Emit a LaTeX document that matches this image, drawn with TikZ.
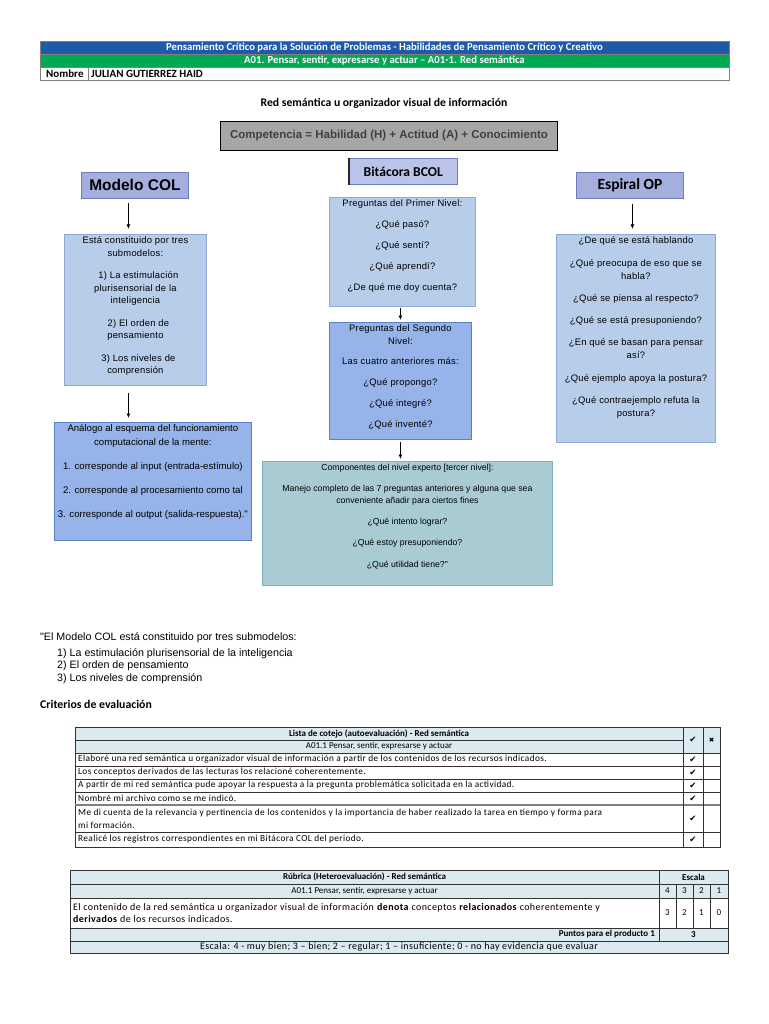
\documentclass[tikz,border=0pt]{standalone}
\usepackage{fontspec}
\setmainfont{Carlito}
\newfontfamily\arial{Liberation Sans}
\newfontfamily\arialls[LetterSpace=2.5]{Liberation Sans}
\newfontfamily\tabls[LetterSpace=4]{Carlito}
\newfontfamily\dejavu{DejaVu Sans}
\usetikzlibrary{arrows.meta}
\definecolor{hdrblue}{RGB}{30,90,168}
\definecolor{hdrgreen}{RGB}{0,170,80}
\definecolor{compgray}{RGB}{166,166,166}
\definecolor{comptext}{RGB}{64,64,64}
\definecolor{lblue}{RGB}{184,205,233}
\definecolor{lblueb}{RGB}{140,172,215}
\definecolor{mblue}{RGB}{150,180,234}
\definecolor{mblueb}{RGB}{90,128,200}
\definecolor{titlebox}{RGB}{165,175,222}
\definecolor{titleboxb}{RGB}{110,125,190}
\definecolor{bitfill}{RGB}{185,196,232}
\definecolor{tealf}{RGB}{168,204,210}
\definecolor{tealb}{RGB}{130,175,185}
\definecolor{tabfill}{RGB}{218,234,240}
\definecolor{tabline}{RGB}{50,50,50}
\newcommand\ck{{\dejavu\fontsize{8.5}{10}\selectfont ✔}}
\newcommand\xk{{\dejavu\fontsize{6.5}{8}\selectfont ✖}}
\tikzset{
 arr/.style={-{Latex[length=4.5pt,width=4pt]}, line width=1pt, black},
 tbox/.style={draw=titleboxb, fill=titlebox, line width=0.8pt, inner sep=0pt, anchor=north west, minimum height=26pt, minimum width=107pt},
 lbox/.style={draw=lblueb, fill=lblue, line width=0.8pt, inner sep=0pt, anchor=north west},
 mbox/.style={draw=mblueb, fill=mblue, line width=0.8pt, inner sep=0pt, anchor=north west},
 ebox/.style={draw=tealb, fill=tealf, line width=0.8pt, inner sep=0pt, anchor=north west},
 bf95/.style={font=\arialls\fontsize{9.4}{12.5}\selectfont},
 tt/.style={inner sep=0pt, font=\fontsize{9}{12.6}\selectfont},
 tr/.style={inner sep=0pt, font=\tabls\fontsize{9.3}{12.6}\selectfont},
 tr2/.style={inner sep=0pt, font=\tabls\fontsize{10}{12.8}\selectfont},
 ttb/.style={inner sep=0pt, font=\bfseries\fontsize{9}{12.6}\selectfont},
 hd/.style={inner sep=0pt, text=white, font=\bfseries\fontsize{10.7}{11}\selectfont},
 tl/.style={draw=tabline, line width=0.6pt},
}
\begin{document}
\begin{tikzpicture}[x=1pt,y=-1pt]
\useasboundingbox[fill=white] (0,0) rectangle (768,1024);

% ---------- header ----------
\fill[hdrblue] (40,41) rectangle (729,54);
\fill[hdrgreen] (40,54) rectangle (729,67);
\draw[gray, line width=0.5pt] (40,41) rectangle (729,80);
\draw[gray, line width=0.5pt] (40,54) -- (729,54) (40,67) -- (729,67) (88,67) -- (88,80);
\node[hd] (h1) at (384.5,47.8) {Pensamiento Crítico para la Solución de Problemas - Habilidades de Pensamiento Crítico y Creativo};
\node[hd] (h2) at (384.5,60.8) {A01. Pensar, sentir, expresarse y actuar – A01-1. Red semántica};
\node[inner sep=0pt, anchor=west, font=\bfseries\fontsize{11}{12}\selectfont] (h3) at (46,73.8) {Nombre};
\node[inner sep=0pt, anchor=west, font=\bfseries\fontsize{11}{12}\selectfont] (h4) at (91,73.8) {JULIAN GUTIERREZ HAID};

% ---------- title ----------
\node[inner sep=0pt, font=\bfseries\fontsize{11.7}{14}\selectfont] (title) at (384,103) {Red semántica u organizador visual de información};

\node[draw=black, line width=1pt, fill=compgray, minimum width=337pt, minimum height=29pt, anchor=north west, inner sep=0pt, text=comptext, font=\arial\bfseries\fontsize{11.5}{14}\selectfont] (comp) at (220,121) {Competencia = Habilidad (H) + Actitud (A) + Conocimiento};

\node[fill=bitfill, draw=titleboxb, line width=0.6pt, minimum width=108pt, minimum height=26pt, anchor=north west, inner sep=0pt, font=\bfseries\fontsize{13.6}{15}\selectfont] (bcol) at (349,158) {Bitácora BCOL};
\draw[line width=1.5pt, black!85] (bcol.north west) -- (bcol.south west);

\node[tbox, font=\arial\bfseries\fontsize{15.5}{18}\selectfont] (modelo) at (81,172) {Modelo COL};
\node[tbox, font=\bfseries\fontsize{15.5}{18}\selectfont] (espiral) at (576,172) {Espiral OP};

% ---------- left column ----------
\node[lbox, bf95] (col1) at (64,234) {\parbox[c][151pt][t]{142pt}{\centering\vspace*{2.5pt}%
Está constituido por tres\\ submodelos:\\[10pt]
\hspace*{6pt}1) La estimulación\\ plurisensorial de la\\ inteligencia\\[10pt]
\hspace*{6pt}2) El orden de\\ pensamiento\\[10pt]
\hspace*{6pt}3) Los niveles de\\ comprensión}};

\node[mbox, font=\arial\fontsize{9.6}{14.5}\selectfont] (ana) at (54,422) {\parbox[c][118pt][t]{197pt}{\centering\vspace*{2pt}%
Análogo al esquema del funcionamiento\\ computacional de la mente:\\[9pt]
1. corresponde al input (entrada-estímulo)\\[9.5pt]
2. corresponde al procesamiento como tal\\[10pt]
3. corresponde al output (salida-respuesta)."}};

% ---------- center column ----------
\node[lbox, bf95] (n1) at (329,197) {\parbox[c][109pt][t]{146pt}{\centering\vspace*{2.5pt}%
Preguntas del Primer Nivel:\\[8.5pt]
¿Qué pasó?\\[8.5pt]
¿Qué sentí?\\[8.5pt]
¿Qué aprendí?\\[8.5pt]
¿De qué me doy cuenta?}};

\node[mbox, bf95] (n2) at (329,322) {\parbox[c][117pt][t]{142pt}{\centering\vspace*{2.5pt}%
Preguntas del Segundo\\ Nivel:\\[7.5pt]
Las cuatro anteriores más:\\[8.5pt]
¿Qué propongo?\\[8.5pt]
¿Qué integré?\\[8.5pt]
¿Qué inventé?}};

\node[ebox, font=\arial\fontsize{8.7}{12}\selectfont] (n3) at (262,461) {\parbox[c][124pt][t]{290pt}{\centering\vspace*{2.5pt}%
Componentes del nivel experto [tercer nivel]:\\[9pt]
Manejo completo de las 7 preguntas anteriores y alguna que sea\\ conveniente añadir para ciertos fines\\[9pt]
¿Qué intento lograr?\\[9.5pt]
¿Qué estoy presuponiendo?\\[9.5pt]
¿Qué utilidad tiene?"}};

% ---------- right column ----------
\node[lbox, font=\arialls\fontsize{9.4}{13}\selectfont] (op) at (556,234) {\parbox[c][208pt][t]{159pt}{\centering\vspace*{2.5pt}%
¿De qué se está hablando\\[9.5pt]
¿Qué preocupa de eso que se\\ habla?\\[9pt]
¿Qué se piensa al respecto?\\[9pt]
¿Qué se está presuponiendo?\\[9pt]
¿En qué se basan para pensar\\ así?\\[10pt]
¿Qué ejemplo apoya la postura?\\[9pt]
¿Qué contraejemplo refuta la\\ postura?}};

% ---------- arrows ----------
\draw[arr] ([xshift=-6.5pt,yshift=-4pt]modelo.south) -- ([xshift=-6.5pt,yshift=5pt]modelo.south |- col1.north);
\draw[arr] ([xshift=-7pt,yshift=-7pt]col1.south) -- ([xshift=-7pt,yshift=4pt]col1.south |- ana.north);
\draw[arr] ([xshift=-2pt,yshift=-1pt]n1.south) -- ([xshift=-2pt,yshift=2pt]n1.south |- n2.north);
\draw[arr] ([xshift=0pt,yshift=-2pt]n2.south) -- ([xshift=0pt,yshift=2pt]n2.south |- n3.north);
\draw[arr] ([xshift=2.5pt,yshift=-5pt]espiral.south) -- ([xshift=2.5pt,yshift=5pt]espiral.south |- op.north);

% ---------- quote text ----------
\node[inner sep=0pt, anchor=north west, align=left, font=\arial\fontsize{10.7}{12.5}\selectfont] (quote) at (40,632.5) {"El Modelo COL está constituido por tres submodelos:\\[3pt]
\hspace*{17pt}1) La estimulación plurisensorial de la inteligencia\\
\hspace*{17pt}2) El orden de pensamiento\\
\hspace*{17pt}3) Los niveles de comprensión};

\node[inner sep=0pt, anchor=west, font=\bfseries\fontsize{11.8}{13}\selectfont] (crit) at (40,704) {Criterios de evaluación};

% ---------- table 1 ----------
\fill[tabfill] (75,727) rectangle (720,753);
\draw[tl] (75,727) rectangle (720,847);
\draw[tl] (75,740) -- (683,740);
\foreach \yy in {753,766,779,792,832} \draw[tl] (75,\yy) -- (720,\yy);
\draw[gray, line width=1.3pt] (75,805) -- (720,805);
\draw[tl] (683,727) -- (683,847) (703,727) -- (703,847);
\node[ttb] (t1h) at (379,733.5) {Lista de cotejo (autoevaluación) - Red semántica};
\node[tt] (t1s) at (379,746.5) {A01.1 Pensar, sentir, expresarse y actuar};
\node[inner sep=0pt] (t1c) at (693,740) {\ck};
\node[inner sep=0pt] (t1x) at (711.5,740) {\xk};
\node[tr, anchor=west] (r1) at (78,759.5) {Elaboré una red semántica u organizador visual de información a partir de los contenidos de los recursos indicados.};
\node[tr, anchor=west] (r2) at (78,772.5) {Los conceptos derivados de las lecturas los relacioné coherentemente.};
\node[tr, anchor=west] (r3) at (78,785.5) {A partir de mi red semántica pude apoyar la respuesta a la pregunta problemática solicitada en la actividad.};
\node[tr, anchor=west] (r4) at (78,798.5) {Nombré mi archivo como se me indicó.};
\node[tr, anchor=west, align=left] (r5) at (78,818.5) {Me di cuenta de la relevancia y pertinencia de los contenidos y la importancia de haber realizado la tarea en tiempo y forma para\\ mi formación.};
\node[tr, anchor=west] (r6) at (78,839.5) {Realicé los registros correspondientes en mi Bitácora COL del periodo.};
\foreach \yy [count=\i] in {759.5,772.5,785.5,798.5,818.5,839.5} \node[inner sep=0pt] (c\i) at (693,\yy) {\ck};

% ---------- table 2 ----------
\fill[tabfill] (70,870) rectangle (728,898);
\fill[tabfill] (70,928) rectangle (728,953);
\draw[tl] (70,870) rectangle (728,953);
\foreach \yy in {884,898,928,941} \draw[tl] (70,\yy) -- (728,\yy);
\draw[tl] (659,870) -- (659,941);
\foreach \xx in {676,693,710} \draw[tl] (\xx,884) -- (\xx,928);
\node[ttb] (u1) at (364.5,877) {Rúbrica (Heteroevaluación) - Red semántica};
\node[ttb] (u2) at (693.5,877) {Escala};
\node[tt] (u3) at (364.5,891) {A01.1 Pensar, sentir, expresarse y actuar};
\node[tt] (s4) at (667.5,891) {4};
\node[tt] (s3) at (684.5,891) {3};
\node[tt] (s2) at (701.5,891) {2};
\node[tt] (s1) at (719,891) {1};
\node[tr2, anchor=west, align=left] (u4) at (73,913) {El contenido de la red semántica u organizador visual de información \textbf{denota} conceptos \textbf{relacionados} coherentemente y\\ \textbf{derivados} de los recursos indicados.};
\node[tt] (v3) at (667.5,913) {3};
\node[tt] (v2) at (684.5,913) {2};
\node[tt] (v1) at (701.5,913) {1};
\node[tt] (v0) at (719,913) {0};
\node[ttb, anchor=east] (u5) at (655,934.5) {Puntos para el producto 1};
\node[ttb] (u6) at (693.5,934.5) {3};
\node[tr2] (u7) at (399,947) {Escala: 4 - muy bien; 3 – bien; 2 – regular; 1 – insuficiente; 0 - no hay evidencia que evaluar};
\end{tikzpicture}
\end{document}
